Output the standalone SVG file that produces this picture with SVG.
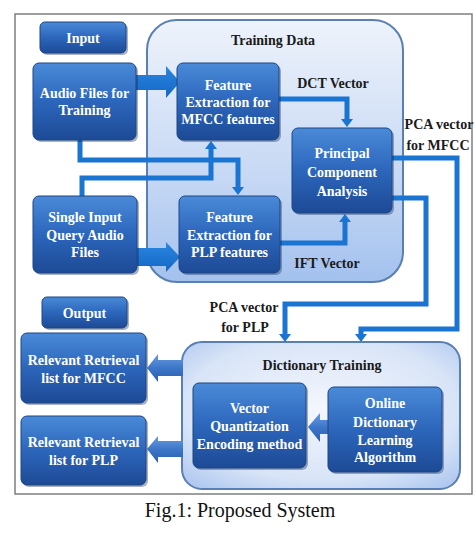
<svg xmlns="http://www.w3.org/2000/svg" width="474" height="537" viewBox="0 0 474 537">
<defs>
<linearGradient id="nodeG" x1="0" y1="0" x2="0" y2="1">
<stop offset="0" stop-color="#4a8ad8"/>
<stop offset="0.5" stop-color="#2c66bb"/>
<stop offset="1" stop-color="#1d4a95"/>
</linearGradient>
<linearGradient id="trainG" x1="0" y1="0" x2="0" y2="1">
<stop offset="0" stop-color="#eef3fb"/>
<stop offset="0.6" stop-color="#c6d8f4"/>
<stop offset="1" stop-color="#a3c1ee"/>
</linearGradient>
<radialGradient id="dictG" cx="0.5" cy="0.45" r="0.7">
<stop offset="0" stop-color="#f4f7fd"/>
<stop offset="0.7" stop-color="#d8e4f7"/>
<stop offset="1" stop-color="#afc8ef"/>
</radialGradient>
<linearGradient id="fatG" x1="0" y1="0" x2="0" y2="1">
<stop offset="0" stop-color="#6a9be0"/>
<stop offset="0.5" stop-color="#3d76c8"/>
<stop offset="1" stop-color="#2a5eae"/>
</linearGradient>
<linearGradient id="blockG" x1="0" y1="0" x2="0" y2="1">
<stop offset="0" stop-color="#2a86e0"/>
<stop offset="1" stop-color="#1467c4"/>
</linearGradient>
<marker id="ah" viewBox="0 0 8 12" markerWidth="8" markerHeight="12" refX="0" refY="6" orient="auto" markerUnits="userSpaceOnUse">
<path d="M0,0 L8,6 L0,12 z" fill="#1a74d2"/>
</marker>
<style>
.node rect.b{fill:url(#nodeG);stroke:#1c4686;stroke-width:1}
.node rect.s{fill:#0d2550;opacity:0.35}
.nt{font-family:"Liberation Serif","Times New Roman",serif;font-weight:bold;font-size:14px;fill:#ffffff;text-anchor:middle}
.lt{font-family:"Liberation Serif","Times New Roman",serif;font-weight:bold;font-size:14px;fill:#1a1a1a;text-anchor:middle}
.conn{fill:none;stroke:#1a74d2;stroke-width:5;marker-end:url(#ah)}
.cont{stroke:#5a7fb5;stroke-width:2}
</style>
</defs>
<rect x="15" y="14" width="457" height="480" fill="#ffffff" stroke="#7f7f7f" stroke-width="1.5"/>

<g id="training-data">
<rect class="cont" x="147" y="20" width="256" height="262" rx="30" fill="url(#trainG)"/>
<text class="lt" x="273" y="45">Training Data</text>
</g>
<g id="dictionary-training">
<rect class="cont" x="182" y="342" width="278" height="147" rx="20" fill="url(#dictG)"/>
<text class="lt" x="322" y="370">Dictionary Training</text>
</g>

<g id="connectors">
<path class="conn" d="M279,99 H347 V119"/>
<path class="conn" d="M80,140 V160 H238 V187"/>
<path class="conn" d="M82,196 V178 H211 V149"/>
<path class="conn" d="M280,243 H345 V222"/>
<path class="conn" d="M392,158 H457 V329 H361 V334"/>
<path class="conn" d="M392,198 H426 V304 H285 V334"/>
<polygon points="136,75 166,75 166,66 180,82 166,98 166,90 136,90" fill="url(#blockG)"/>
<polygon points="137,248 166,248 166,242 180,257 166,272 166,266 137,266" fill="url(#blockG)"/>
<polygon points="183,360 158,360 158,354 147,368 158,382 158,376 183,376" fill="url(#fatG)"/>
<polygon points="183,441 158,441 158,436 147,449 158,463 158,457 183,457" fill="url(#fatG)"/>
<polygon points="328,420 320,420 320,413 308,427 320,442 320,434 328,434" fill="url(#fatG)"/>
</g>

<g id="input" class="node">
<rect class="s" x="42" y="24" width="86" height="31" rx="5"/>
<rect class="b" x="40" y="22" width="86" height="31" rx="5"/>
<text class="nt" x="83" y="43">Input</text>
</g>
<g id="audio-files" class="node">
<rect class="s" x="35" y="65" width="103" height="77" rx="6"/>
<rect class="b" x="33" y="63" width="103" height="77" rx="6"/>
<text class="nt" x="84.5" y="98">Audio Files for</text>
<text class="nt" x="84.5" y="115">Training</text>
</g>
<g id="fe-mfcc" class="node">
<rect class="s" x="179" y="65" width="102" height="77" rx="6"/>
<rect class="b" x="177" y="63" width="102" height="77" rx="6"/>
<text class="nt" x="228" y="90">Feature</text>
<text class="nt" x="228" y="107">Extraction for</text>
<text class="nt" x="228" y="124">MFCC features</text>
</g>
<g id="pca" class="node">
<rect class="s" x="294" y="130" width="100" height="85" rx="6"/>
<rect class="b" x="292" y="128" width="100" height="85" rx="6"/>
<text class="nt" x="342" y="158">Principal</text>
<text class="nt" x="342" y="177">Component</text>
<text class="nt" x="342" y="196">Analysis</text>
</g>
<g id="single-input" class="node">
<rect class="s" x="35" y="198" width="104" height="77" rx="6"/>
<rect class="b" x="33" y="196" width="104" height="77" rx="6"/>
<text class="nt" x="85" y="222">Single Input</text>
<text class="nt" x="85" y="240">Query Audio</text>
<text class="nt" x="85" y="257">Files</text>
</g>
<g id="fe-plp" class="node">
<rect class="s" x="181" y="198" width="101" height="77" rx="6"/>
<rect class="b" x="179" y="196" width="101" height="77" rx="6"/>
<text class="nt" x="229.5" y="222">Feature</text>
<text class="nt" x="229.5" y="240">Extraction for</text>
<text class="nt" x="229.5" y="257">PLP features</text>
</g>
<g id="output" class="node">
<rect class="s" x="44" y="299" width="85" height="31" rx="5"/>
<rect class="b" x="42" y="297" width="85" height="31" rx="5"/>
<text class="nt" x="84.5" y="318">Output</text>
</g>
<g id="retrieval-mfcc" class="node">
<rect class="s" x="23" y="335" width="125" height="70" rx="6"/>
<rect class="b" x="21" y="333" width="125" height="70" rx="6"/>
<text class="nt" x="83.5" y="365">Relevant Retrieval</text>
<text class="nt" x="83.5" y="383">list for MFCC</text>
</g>
<g id="retrieval-plp" class="node">
<rect class="s" x="23" y="418" width="125" height="69" rx="6"/>
<rect class="b" x="21" y="416" width="125" height="69" rx="6"/>
<text class="nt" x="83.5" y="447">Relevant Retrieval</text>
<text class="nt" x="83.5" y="465">list for PLP</text>
</g>
<g id="vq" class="node">
<rect class="s" x="195" y="385" width="113" height="85" rx="6"/>
<rect class="b" x="193" y="383" width="113" height="85" rx="6"/>
<text class="nt" x="249.5" y="413">Vector</text>
<text class="nt" x="249.5" y="431">Quantization</text>
<text class="nt" x="249.5" y="449">Encoding method</text>
</g>
<g id="online-dict" class="node">
<rect class="s" x="330" y="389" width="114" height="85" rx="6"/>
<rect class="b" x="328" y="387" width="114" height="85" rx="6"/>
<text class="nt" x="385" y="408">Online</text>
<text class="nt" x="385" y="427">Dictionary</text>
<text class="nt" x="385" y="445">Learning</text>
<text class="nt" x="385" y="462">Algorithm</text>
</g>

<g id="labels">
<text class="lt" x="333" y="88">DCT Vector</text>
<text class="lt" x="439" y="129">PCA vector</text>
<text class="lt" x="438" y="150">for MFCC</text>
<text class="lt" x="327" y="268">IFT Vector</text>
<text class="lt" x="244" y="312">PCA vector</text>
<text class="lt" x="245" y="332">for PLP</text>
</g>
<text x="240" y="517" font-family="'Liberation Serif','Times New Roman',serif" font-size="20" fill="#111111" text-anchor="middle">Fig.1: Proposed System</text>
</svg>
